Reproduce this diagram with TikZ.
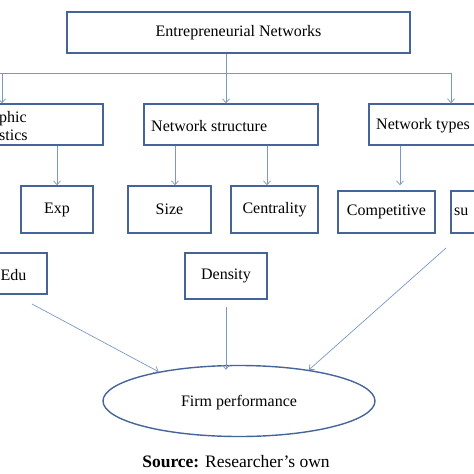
\documentclass[tikz,border=0pt]{standalone}
\usepackage{fontspec}
\setmainfont{Liberation Serif}
\usetikzlibrary{arrows.meta,shapes.geometric}
\definecolor{boxc}{HTML}{45659A}
\definecolor{arrc}{HTML}{7A98C6}
\tikzset{
  box/.style={draw=boxc, line width=1.4pt, inner sep=0pt, fill=white},
  lbl/.style={inner sep=0pt, font=\fontsize{16}{19}\selectfont},
  conn/.style={draw=arrc, line width=0.7pt},
  arr/.style={conn, -{Straight Barb[length=4pt,width=7pt]}}
}
\begin{document}
\begin{tikzpicture}[x=1pt,y=-1pt]
\useasboundingbox (0,0) rectangle (474,474);
% boxes
\node[box, minimum width=343, minimum height=41] (top) at (238.5,32.5) {};
\node[box, minimum width=183, minimum height=41] (demo) at (11.5,124.5) {};
\node[box, minimum width=174, minimum height=41] (ns) at (231,124.5) {};
\node[box, minimum width=191, minimum height=41] (nt) at (464.5,124.5) {};
\node[box, minimum width=72, minimum height=47] (exp) at (57,209.5) {};
\node[box, minimum width=83, minimum height=47] (size) at (169.5,209.5) {};
\node[box, minimum width=87, minimum height=47] (cent) at (274.5,209.5) {};
\node[box, minimum width=97, minimum height=42] (comp) at (386.5,212) {};
\node[box, minimum width=89, minimum height=42] (su) at (495.5,212) {};
\node[box, minimum width=87, minimum height=41] (edu) at (3.5,273.5) {};
\node[box, minimum width=82, minimum height=46] (dens) at (226,276) {};
\node[ellipse, draw=boxc, line width=1.4pt, minimum width=272, minimum height=71, inner sep=0pt] (fp) at (239,401) {};
% texts
\node[lbl] (ttop) at (top.center) {Entrepreneurial Networks};
\node[lbl, anchor=base west] (tdemo1) at (-1,122) {phic};
\node[lbl, anchor=base west] (tdemo2) at (-1,140) {stics};
\node[lbl, anchor=west] (tns) at (151,126) {Network structure};
\node[lbl, anchor=west] (tnt) at (376,126) {Network types};
\node[lbl] (texp) at (exp.center) {Exp};
\node[lbl] (tsize) at (size.center) {Size};
\node[lbl] (tcent) at (cent.center) {Centrality};
\node[lbl] (tcomp) at (comp.center) {Competitive};
\node[lbl, anchor=west] (tsu) at (454,212) {su};
\node[lbl, anchor=west] (tedu) at (0.5,275) {Edu};
\node[lbl] (tdens) at (dens.center) {Density};
\node[lbl] (tfp) at (239,403) {Firm performance};
\node[lbl, anchor=base, font=\fontsize{17.5}{20}\selectfont] (tsrc) at (236,467) {\textbf{Source:} Researcher’s own};
% bus
\coordinate (busL) at (-5,73);
\coordinate (busR) at (451,73);
\coordinate (busC) at (226,73);
\coordinate (busD) at (2,73);
\draw[conn] (busL) -- (busR);
\draw[arr] (top.south -| busC) -- (ns.north -| busC);
\draw[arr] (busD) -- (demo.north -| busD);
\draw[arr] (busR) -- (nt.north -| busR);
% sub arrows
\coordinate (xsize) at (175,0);
\coordinate (xcent) at (267,0);
\coordinate (xcomp) at (400,0);
\draw[arr] (demo.south -| exp.north) -- (exp.north);
\draw[arr] (ns.south -| xsize) -- (size.north -| xsize);
\draw[arr] (ns.south -| xcent) -- (cent.north -| xcent);
\draw[arr] (nt.south -| xcomp) -- ([yshift=5pt]comp.north -| xcomp);
% to firm performance
\coordinate (e1) at (32,304);
\coordinate (s1) at (446,248);
\draw[arr] (e1) -- (fp.160);
\draw[arr] ([yshift=-7pt]dens.south) -- ([yshift=-5pt]dens.south |- fp.north);
\draw[arr] (s1) -- (fp.24);
\end{tikzpicture}
\end{document}
